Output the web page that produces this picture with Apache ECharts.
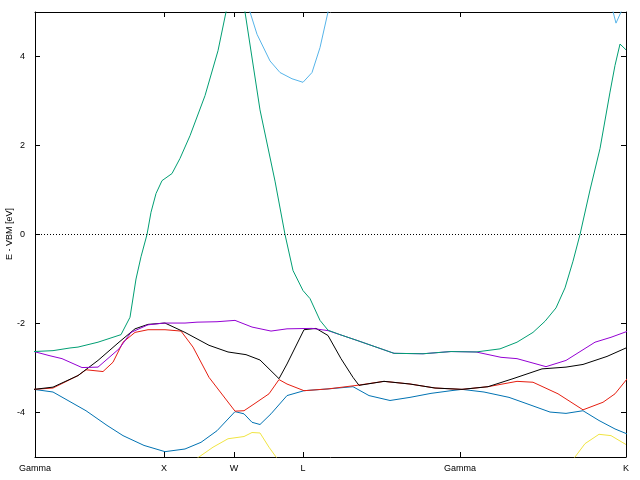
<!DOCTYPE html>
<html><head><meta charset="utf-8">
<script src="https://cdn.jsdelivr.net/npm/echarts@6/dist/echarts.min.js"></script>
<style>html,body{margin:0;padding:0;background:#fff}#c{width:640px;height:480px}</style>
</head><body><div id="c"></div>
<script>
const kTicks = [35,164,234,303,460,626];
const kLabels = ['Gamma','X','W','L','Gamma','K'];
const eTicks = [-4,-2,0,2,4];
const yTitle = 'E - VBM [eV]';
const band1 = [[34,-3.48],[53,-3.54],[86,-3.96],[107,-4.29],[123,-4.52],[144,-4.74],[165,-4.88],[185,-4.82],[201,-4.67],[217,-4.41],[235,-3.98],[244,-4.03],[252,-4.22],[260,-4.27],[271,-4.03],[287,-3.62],[304,-3.51],[328,-3.47],[353,-3.42],[369,-3.62],[390,-3.73],[410,-3.66],[431,-3.57],[451,-3.51],[462,-3.48],[484,-3.54],[509,-3.66],[529,-3.82],[550,-3.99],[566,-4.02],[583,-3.96],[599,-4.18],[615,-4.37],[628,-4.49]];
const band2 = [[34,-3.48],[53,-3.45],[78,-3.17],[86,-3.04],[103,-3.08],[113,-2.87],[123,-2.42],[135,-2.2],[148,-2.14],[165,-2.14],[181,-2.17],[193,-2.53],[209,-3.21],[235,-3.97],[244,-3.96],[254,-3.81],[269,-3.58],[279,-3.26],[287,-3.36],[304,-3.51],[328,-3.47],[357,-3.39],[384,-3.30],[410,-3.36],[435,-3.45],[462,-3.48],[488,-3.42],[517,-3.30],[533,-3.32],[558,-3.58],[583,-3.94],[603,-3.77],[615,-3.58],[628,-3.22]];
const band3 = [[34,-3.48],[53,-3.43],[78,-3.17],[98,-2.83],[119,-2.42],[135,-2.12],[148,-2.02],[165,-1.99],[185,-2.2],[209,-2.49],[228,-2.64],[246,-2.70],[260,-2.82],[279,-3.24],[287,-2.91],[304,-2.14],[316,-2.11],[328,-2.27],[341,-2.79],[353,-3.21],[359,-3.39],[384,-3.30],[410,-3.36],[435,-3.45],[462,-3.48],[488,-3.42],[513,-3.24],[542,-3.02],[566,-2.98],[583,-2.92],[607,-2.74],[628,-2.53]];
const band4 = [[34,-2.63],[49,-2.72],[62,-2.79],[82,-2.99],[98,-2.98],[119,-2.57],[131,-2.2],[148,-2.03],[164,-1.99],[185,-1.99],[197,-1.97],[217,-1.96],[235,-1.93],[252,-2.08],[271,-2.17],[287,-2.12],[312,-2.11],[328,-2.16],[357,-2.38],[394,-2.67],[423,-2.68],[451,-2.63],[476,-2.64],[501,-2.76],[517,-2.79],[546,-2.97],[566,-2.83],[595,-2.42],[611,-2.31],[628,-2.17]];
const band5 = [[34,-2.63],[53,-2.61],[70,-2.55],[78,-2.53],[98,-2.42],[121,-2.25],[130,-1.86],[136,-1.0],[141,-0.5],[147,0],[151,0.5],[156,0.92],[162,1.21],[172,1.37],[180,1.71],[190,2.22],[205,3.12],[218,4.13],[226,5.0],[230,5.6],[240,5.6],[245,5.0],[260,2.8],[275,1.2],[285,0],[293,-0.81],[303,-1.26],[310,-1.44],[320,-1.93],[328,-2.15],[340,-2.25],[357,-2.38],[394,-2.67],[423,-2.68],[451,-2.63],[476,-2.64],[500,-2.57],[517,-2.42],[533,-2.2],[545,-1.95],[556,-1.65],[565,-1.2],[573,-0.6],[580,0],[590,1.0],[600,1.93],[610,3.2],[615,3.8],[620,4.28],[626,4.15]];
const band6 = [[243,5.6],[250,5.0],[257,4.5],[270,3.9],[280,3.64],[292,3.5],[303,3.42],[312,3.64],[320,4.2],[328,5.0],[331,5.6]];
const band6b = [[608,5.6],[612,5.1],[616,4.75],[621,5.0],[626,5.4]];
const band7 = [[192,-5.4],[197,-5.03],[213,-4.78],[228,-4.59],[244,-4.54],[252,-4.45],[260,-4.46],[269,-4.78],[277,-5.03],[280,-5.4]];
const band7b = [[570,-5.4],[574,-5.03],[585,-4.7],[599,-4.49],[611,-4.52],[626,-4.72]];

const chart = echarts.init(document.getElementById('c'));
const font = {fontFamily:'Liberation Sans, Arial', fontSize:9, color:'#000'};
const ln = (d,c)=>({type:'line',data:d,showSymbol:false,symbol:'none',smooth:false,clip:true,lineStyle:{color:c,width:1},animation:false});
const xa = (pos,show)=>({type:'value',min:35,max:626,position:pos,
  axisLine:{show:true,onZero:false,lineStyle:{color:'#000',width:1}},
  splitLine:{show:false},
  axisTick:{show:true,inside:true,length:5,customValues:kTicks,lineStyle:{color:'#000'}},
  axisLabel:{show:show,customValues:kTicks,formatter:v=>kLabels[kTicks.indexOf(v)]||'',margin:7,...font}});
const ya = (pos,show)=>({type:'value',min:-5,max:5,position:pos,
  axisLine:{show:true,onZero:false,lineStyle:{color:'#000',width:1}},
  splitLine:{show:false},
  axisTick:{show:true,inside:true,length:5,customValues:eTicks,lineStyle:{color:'#000'}},
  axisLabel:{show:show,customValues:eTicks,margin:10,...font}});
chart.setOption({
  animation:false,
  grid:{left:35,right:14,top:12,bottom:23,containLabel:false,outerBoundsMode:'none'},
  graphic:[{type:'text',x:10,y:234,rotation:Math.PI/2,style:{text:yTitle,x:0,y:0,align:'center',verticalAlign:'middle',font:'9px "Liberation Sans", Arial',fill:'#000'}}],
  xAxis:[xa('bottom',true),xa('top',false)],
  yAxis:[ya('left',true),ya('right',false)],
  series:[
    Object.assign(ln(band1,'#0072b2'),{markLine:{silent:true,symbol:'none',label:{show:false},lineStyle:{color:'#000',type:[1,2],width:1},data:[{yAxis:0}]}}),
    ln(band2,'#e51e10'),
    ln(band3,'#000000'),
    ln(band4,'#9400d3'),
    ln(band5,'#009e73'),
    ln(band6,'#56b4e9'),
    ln(band6b,'#56b4e9'),
    ln(band7,'#f0e442'),
    ln(band7b,'#f0e442')
  ]
});
</script></body></html>
